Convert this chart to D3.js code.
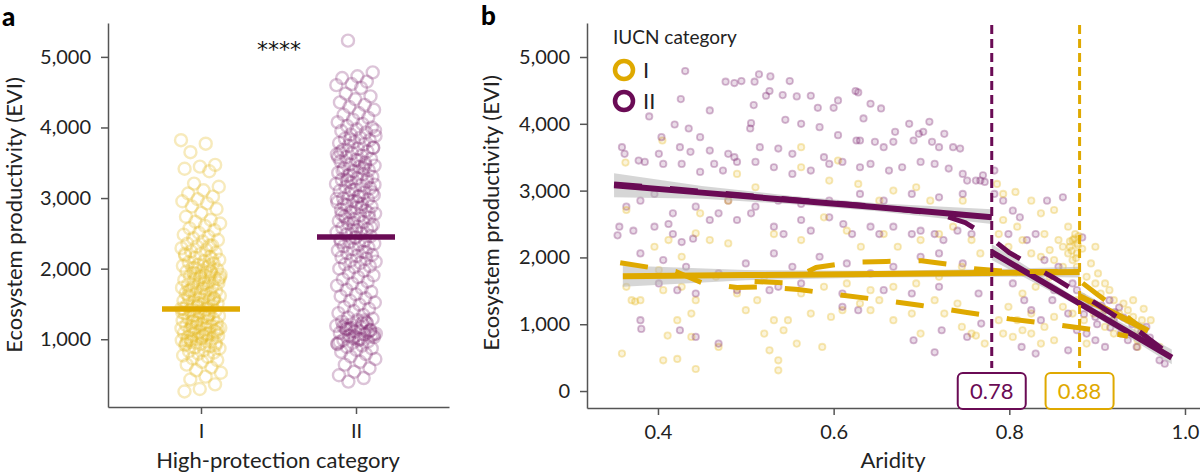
<!DOCTYPE html>
<html>
  <head>
    <script src="https://d3js.org/d3.v7.min.js"></script>
    <style>
      body { margin: 0; background: #fff; }
      svg { font-family: Lato, "Noto Sans", sans-serif; }
      .axis path, .axis line { fill: none; stroke: #555; stroke-width: 1.5; }
      .axis text { font-size: 20px; fill: #222; font-family: Lato, "Noto Sans", sans-serif; }
      .title { font-size: 22px; fill: #222; }
      .panel { font-size: 26px; font-weight: 900; fill: #000; }
    </style>
  </head>
  <body>
    <script>
      // ---- data ----
      var categories = ["I", "II"];
      var colors = { I: "#dfa900", II: "#6a0b55" };
      var ringColors = { I: "#e5b820", II: "#7d2570" };

      // panel a: EVI of each protected area
      var evi_I = [3820,3770,3650,3470,3445,3415,3380,3205,3160,3110,3065,3020,2985,2955,2925,2880,2845,2790,2735,2690,2665,2640,2605,2570,2545,2505,2480,2455,2430,2405,2385,2355,2330,2315,2290,2265,2245,2225,2205,2185,2165,2150,2125,2105,2090,2075,2055,2040,2025,2010,1990,1975,1960,1945,1930,1915,1905,1890,1870,1855,1840,1825,1815,1800,1785,1770,1755,1745,1730,1715,1700,1685,1670,1655,1645,1630,1615,1600,1585,1570,1560,1545,1530,1515,1505,1490,1475,1465,1450,1435,1425,1410,1400,1385,1370,1360,1345,1330,1320,1305,1290,1280,1265,1250,1240,1225,1210,1200,1185,1170,1160,1145,1130,1120,1105,1090,1080,1065,1050,1040,1025,1010,1000,985,970,960,945,930,915,900,885,870,850,830,810,795,770,750,730,705,680,640,600,560,525,470,430,360,295,260,
        2050,1940,1850,1720,1620,1550,1470,1380,1300,1180,1100,1020,940,1965,2015,1880,1790,1690,1580,1510,1430,1340,1260,1140,1060,980,2140,1235,1155,1075,995,915,1880,2210,2330];
      var evi_II = [5230,4780,4725,4700,4650,4615,4600,4560,4480,4440,4400,4355,4320,4290,4250,4205,4180,4140,4110,4075,4050,4020,4000,3975,3950,3930,3900,3880,3855,3840,3820,3795,3780,3760,3740,3715,3700,3680,3660,3635,3620,3600,3580,3555,3540,3520,3500,3475,3460,3440,3420,3395,3380,3360,3340,3315,3300,3280,3260,3235,3220,3200,3180,3155,3140,3120,3100,3075,3060,3040,3020,2995,2980,2960,2940,2915,2900,2880,2860,2835,2820,2800,2780,2755,2740,2720,2700,2675,2660,2640,2620,2595,2580,2560,2540,2515,2500,2480,2460,2435,2420,2400,2380,2355,2340,2320,2300,2275,2260,2240,2220,2195,2180,2160,2140,2115,2100,2080,2060,2035,2020,2000,1970,1940,1905,1880,1850,1815,1790,1760,1725,1700,1670,1635,1610,1580,1545,1520,1490,1455,1430,1400,1370,1345,1310,1290,1270,1250,1230,1210,1190,1170,1150,1130,1110,1090,1070,1050,1030,1010,990,970,950,930,910,890,870,850,820,790,755,720,680,640,590,540,490,450,400,
        3710,3530,3390,3270,3110,2990,2870,2710,2590,2450,3650,3470,3330,3190,3030,2910,2790,2650,3580,3420,3250,3080,2940,2770,1240,1160,1080,1000,1200,1120,1040,960,1265,1145,1065,985,1180,1100,1020,940,1225,1135,1055,2550,2380,2230,3830,3960];
      var medians = [1430, 2450];

      // panel b: aridity vs EVI
      var scatter_II = [[0.431,4790],[0.477,4630],[0.487,4610],[0.495,4640],[0.510,4630],[0.515,4740],[0.528,4710],[0.550,4640],[0.527,4490],[0.523,4420],[0.542,4430],[0.558,4410],[0.574,4420],[0.625,4490],[0.628,4470],[0.426,4370],[0.459,4200],[0.390,4110],[0.509,4280],[0.582,4240],[0.600,4240],[0.605,4350],[0.642,4300],[0.654,4230],[0.634,4080],[0.545,4060],[0.563,4000],[0.584,3950],[0.506,4010],[0.505,3930],[0.419,3990],[0.404,3800],[0.435,3930],[0.448,3800],[0.425,3650],[0.437,3580],[0.459,3600],[0.480,3550],[0.487,3500],[0.516,3650],[0.537,3630],[0.553,3550],[0.589,3500],[0.605,3830],[0.626,3750],[0.630,3750],[0.647,3730],[0.657,3650],[0.668,3730],[0.670,3880],[0.686,4000],[0.691,3750],[0.697,3850],[0.702,3880],[0.709,4030],[0.712,3730],[0.720,3650],[0.726,3850],[0.736,3650],[0.744,3630],[0.359,3650],[0.362,3550],[0.378,3450],[0.385,3430],[0.401,3550],[0.406,3400],[0.427,3400],[0.448,3280],[0.464,3400],[0.474,3300],[0.490,3430],[0.511,3430],[0.532,3350],[0.553,3250],[0.574,3300],[0.595,3400],[0.610,3430],[0.630,3350],[0.642,3400],[0.663,3300],[0.678,3350],[0.699,3430],[0.715,3400],[0.731,3330],[0.747,3250],[0.762,3150],[0.770,3230],[0.783,3300],[0.772,3130],
        [0.354,2330],[0.356,2460],[0.372,2400],[0.396,2460],[0.412,2500],[0.417,2350],[0.427,2230],[0.440,2280],[0.459,2560],[0.469,2660],[0.490,2560],[0.506,2660],[0.532,2460],[0.543,2350],[0.563,2560],[0.574,2400],[0.595,2600],[0.611,2500],[0.621,2350],[0.642,2460],[0.652,2350],[0.668,2460],[0.689,2350],[0.699,2400],[0.715,2350],[0.725,2260],[0.741,2400],[0.757,2350],[0.364,2760],[0.380,2850],[0.396,2950],[0.417,2660],[0.443,2760],[0.480,2850],[0.511,2760],[0.537,2850],[0.563,2800],[0.595,2850],[0.630,2950],[0.657,2850],[0.689,2950],[0.720,2900],[0.747,2950],[0.752,3150],[0.767,3150],
        [0.380,2060],[0.406,1960],[0.432,1860],[0.469,1760],[0.500,1910],[0.532,2060],[0.553,1860],[0.584,2010],[0.615,1910],[0.642,1760],[0.668,1860],[0.699,2010],[0.720,2060],[0.747,1910],[0.401,1610],[0.422,1510],[0.443,1460],[0.490,1510],[0.537,1560],[0.563,1610],[0.610,1460],[0.657,1510],[0.689,1460],[0.720,1560],[0.765,1460],
        [0.380,1060],[0.381,930],[0.425,910],[0.443,810],[0.469,710],[0.527,1510],[0.610,1260],[0.628,1210],[0.691,760],[0.715,580],[0.752,810],[0.768,1010],[0.723,910],
        [0.783,2950],[0.793,2850],[0.804,2700],[0.812,2600],[0.799,2350],[0.820,2260],[0.830,2350],[0.843,2850],[0.861,2900],[0.840,1960],[0.856,1860],[0.872,1610],[0.883,2300],[0.804,1610],[0.817,1360],[0.825,1210],[0.836,1060],[0.849,1360],[0.867,1160],[0.877,910],[0.888,860],[0.898,1110],[0.909,1210],[0.919,1060],[0.927,860],[0.935,760],[0.945,660],[0.956,960],[0.898,760],[0.909,660],[0.867,610],[0.814,660],[0.830,560],[0.977,410],[0.971,460],[0.914,1360],[0.893,1310],[0.877,1510],[0.851,1510],
        [0.905,1280],[0.920,1180],[0.930,1100],[0.940,1000],[0.915,950],[0.925,1250],[0.900,1000],[0.885,1150],[0.950,880],[0.960,800]];
      var scatter_I = [[0.363,3420],[0.405,3750],[0.359,560],[0.364,2710],[0.370,1360],[0.374,1340],[0.406,460],[0.422,480],[0.443,330],[0.438,1160],[0.422,1060],[0.411,830],[0.438,810],[0.469,660],[0.448,2660],[0.459,2260],[0.480,2210],[0.443,2360],[0.427,2010],[0.401,1810],[0.396,2160],[0.412,2260],[0.427,1560],[0.443,1360],[0.466,1710],[0.490,1460],[0.500,1210],[0.513,1360],[0.521,860],[0.527,610],[0.537,460],[0.537,310],[0.532,1060],[0.543,910],[0.548,1060],[0.558,710],[0.574,1160],[0.587,660],[0.597,1110],[0.610,1210],[0.630,1310],[0.642,1210],[0.652,1360],[0.668,1060],[0.689,1160],[0.699,860],[0.715,1360],[0.726,1160],[0.741,1310],[0.746,960],[0.757,860],[0.762,830],[0.772,710],[0.563,3650],[0.563,3350],[0.605,3450],[0.595,3150],[0.628,3100],[0.652,2850],[0.668,3000],[0.694,3050],[0.710,2850],[0.747,2850],[0.490,3250],[0.511,3050],[0.480,2850],[0.532,2350],[0.563,2260],[0.589,2600],[0.615,2400],[0.631,2160],[0.657,2350],[0.673,2160],[0.699,2260],[0.720,2350],[0.736,2460],[0.757,2260],[0.767,2060],[0.746,1860],[0.720,1710],[0.694,1610],[0.668,1560],[0.642,1510],[0.615,1610],[0.589,1560],[0.563,1460],[0.521,1710],[0.406,1510],[0.380,1360],[0.364,1560],
        [0.786,3100],[0.793,2950],[0.807,2980],[0.825,2850],[0.836,2660],[0.851,2710],[0.867,2460],[0.872,2260],[0.869,2160],[0.875,2350],[0.877,2210],[0.867,2060],[0.861,2160],[0.856,2260],[0.846,2110],[0.836,2010],[0.825,2060],[0.815,2260],[0.799,2160],[0.788,2350],[0.793,2560],[0.809,2460],[0.840,2350],[0.851,1960],[0.877,1860],[0.888,1710],[0.898,1610],[0.904,1460],[0.914,1510],[0.919,1360],[0.930,1310],[0.935,1210],[0.941,1110],[0.951,1060],[0.946,910],[0.930,910],[0.919,860],[0.909,960],[0.896,1160],[0.885,1060],[0.872,1160],[0.861,1260],[0.851,1110],[0.840,960],[0.825,860],[0.815,910],[0.804,810],[0.793,860],[0.788,1060],[0.799,1260],[0.815,1460],[0.830,1560],[0.846,1710],[0.861,1860],[0.872,1960],[0.877,2060],[0.883,2130],[0.888,710],[0.851,760],[0.836,710],[0.946,660],[0.961,1060],[0.953,1230],[0.941,1360],[0.909,1610],[0.901,1760],[0.893,1910],[0.883,1410],[0.925,1160],[0.935,1060],[0.917,1060],[0.906,1160],[0.891,1310],[0.877,1360],[0.825,1160],[0.809,1060],[0.946,760],[0.971,660],[0.898,2160],
        [0.874,2280],[0.878,2180],[0.871,2100],[0.876,1990],[0.879,2320],[0.869,2240]];

      // piecewise fits (solid) with confidence bands [aridity, fit, lo, hi]
      var fit_II_a = [[0.350,3080,2900,3260],[0.450,2970,2880,3070],[0.550,2860,2800,2925],[0.650,2750,2690,2810],[0.780,2600,2500,2720]];
      var fit_II_b = [[0.780,2080,1960,2200],[0.880,1310,1260,1360],[0.985,500,400,620]];
      var fit_I_a = [[0.360,1720,1560,1880],[0.500,1735,1660,1810],[0.650,1750,1700,1800],[0.800,1770,1710,1830],[0.880,1780,1700,1860]];
      var fit_I_b = [[0.880,1420,1340,1500],[0.920,1160,1110,1210],[0.958,900,830,970]];
      // smoothed trends (dashed)
      var smooth_II = [[0.350,3100],[0.450,2990],[0.550,2870],[0.650,2760],[0.720,2650],[0.750,2520],[0.780,2280],[0.800,2070],[0.850,1700],[0.900,1300],[0.950,870],[0.985,520]];
      var smooth_I_low = [[0.357,1920],[0.420,1790],[0.450,1620],[0.490,1550],[0.520,1560],[0.560,1520],[0.600,1450],[0.650,1370],[0.700,1280],[0.750,1180],[0.800,1080],[0.850,1000],[0.900,910],[0.935,820]];
      var smooth_I_up = [[0.510,1640],[0.545,1620],[0.580,1850],[0.620,1925],[0.660,1940],[0.700,1950],[0.730,1900],[0.760,1830],[0.800,1790],[0.860,1790],[0.875,1700],[0.900,1450],[0.930,1150],[0.955,900]];
      var thresholds = [0.78, 0.88];

      var svg = d3.select("body").append("svg")
        .attr("width", 1200)
        .attr("height", 476);

      // ================= panel a =================
      var xa = d3.scalePoint().domain(categories).range([108, 449]).padding(0.6);
      var ya = d3.scaleLinear().domain([40, 5480]).range([407, 23]);

      svg.append("g")
        .attr("class", "axis")
        .attr("transform", "translate(0,407)")
        .call(d3.axisBottom(xa).tickSize(7).tickSizeOuter(0).tickPadding(10));
      svg.append("g")
        .attr("class", "axis")
        .attr("transform", "translate(108,0)")
        .call(d3.axisLeft(ya).tickValues([1000, 2000, 3000, 4000, 5000]).tickFormat(d3.format(",")).tickSize(7).tickSizeOuter(0).tickPadding(10));

      var stripData = [];
      [evi_I, evi_II].forEach(function(vals, k) {
        vals.forEach(function(v, i) {
          // deterministic jitter offset (golden-ratio sequence)
          var j = ((i * 0.6180339 + k * 0.3) % 1) * 2 - 1;
          stripData.push({ cat: categories[k], v: v, j: j });
        });
      });

      svg.append("g").selectAll("circle")
        .data(stripData)
        .enter().append("circle")
        .attr("cx", function(d) { return xa(d.cat) + d.j * 20; })
        .attr("cy", function(d) { return ya(d.v); })
        .attr("r", 6)
        .attr("fill", "none")
        .attr("stroke", function(d) { return ringColors[d.cat]; })
        .attr("stroke-width", 2.4)
        .attr("stroke-opacity", function(d) { return d.cat === "I" ? 0.3 : 0.27; });

      svg.append("g").selectAll("line")
        .data(categories)
        .enter().append("line")
        .attr("x1", function(d) { return xa(d) - 39; })
        .attr("x2", function(d) { return xa(d) + 39; })
        .attr("y1", function(d, i) { return ya(medians[i]); })
        .attr("y2", function(d, i) { return ya(medians[i]); })
        .attr("stroke", function(d) { return colors[d]; })
        .attr("stroke-width", 5.5);

      svg.append("text")
        .attr("x", 279).attr("y", 57)
        .attr("text-anchor", "middle")
        .style("font-family", "'DejaVu Sans', sans-serif")
        .style("font-size", "22px")
        .attr("fill", "#111")
        .text("****");

      svg.append("text").attr("class", "title")
        .attr("transform", "translate(22,215) rotate(-90)")
        .attr("text-anchor", "middle")
        .text("Ecosystem productivity (EVI)");
      svg.append("text").attr("class", "title")
        .attr("x", 278).attr("y", 468)
        .attr("text-anchor", "middle")
        .text("High-protection category");
      svg.append("text").attr("class", "panel").attr("x", 2).attr("y", 26).text("a");

      // ================= panel b =================
      var xb = d3.scaleLinear().domain([0.3192, 1.0171]).range([587, 1200]);
      var yb = d3.scaleLinear().domain([-254, 5509]).range([408, 23]);

      var pts = scatter_II.map(function(d) { return { cat: "II", a: d[0], v: d[1] }; })
        .concat(scatter_I.map(function(d) { return { cat: "I", a: d[0], v: d[1] }; }));
      // interleave so neither group sits fully on top
      pts.sort(function(p, q) { return (p.a * 997 + p.v) % 7 - (q.a * 997 + q.v) % 7; });

      svg.append("g").selectAll("circle")
        .data(pts)
        .enter().append("circle")
        .attr("cx", function(d) { return xb(d.a); })
        .attr("cy", function(d) { return yb(d.v); })
        .attr("r", 3.2)
        .attr("fill", function(d) { return ringColors[d.cat]; })
        .attr("fill-opacity", 0.16)
        .attr("stroke", function(d) { return ringColors[d.cat]; })
        .attr("stroke-opacity", 0.32)
        .attr("stroke-width", 1.8);

      var band = d3.area()
        .x(function(d) { return xb(d[0]); })
        .y0(function(d) { return yb(d[2]); })
        .y1(function(d) { return yb(d[3]); });
      var fitLine = d3.line()
        .x(function(d) { return xb(d[0]); })
        .y(function(d) { return yb(d[1]); });

      var fits = [
        { cat: "I", d: fit_I_a }, { cat: "I", d: fit_I_b },
        { cat: "II", d: fit_II_a }, { cat: "II", d: fit_II_b }
      ];
      svg.append("g").selectAll("path")
        .data(fits)
        .enter().append("path")
        .attr("d", function(f) { return band(f.d); })
        .attr("fill", "#b5b5b5")
        .attr("fill-opacity", 0.55);
      svg.append("g").selectAll("path")
        .data(fits)
        .enter().append("path")
        .attr("d", function(f) { return fitLine(f.d); })
        .attr("fill", "none")
        .attr("stroke", function(f) { return colors[f.cat]; })
        .attr("stroke-width", 6);

      var smooths = [
        { cat: "I", d: smooth_I_low }, { cat: "I", d: smooth_I_up }, { cat: "II", d: smooth_II }
      ];
      svg.append("g").selectAll("path")
        .data(smooths)
        .enter().append("path")
        .attr("d", function(f) { return fitLine(f.d); })
        .attr("fill", "none")
        .attr("stroke", function(f) { return colors[f.cat]; })
        .attr("stroke-width", 5)
        .attr("stroke-dasharray", "28,28");

      svg.append("g")
        .attr("class", "axis")
        .attr("transform", "translate(0,408)")
        .call(d3.axisBottom(xb).tickValues([0.4, 0.6, 0.8, 1.0]).tickFormat(d3.format(".1f")).tickSize(7).tickSizeOuter(0).tickPadding(10));
      svg.append("g")
        .attr("class", "axis")
        .attr("transform", "translate(587,0)")
        .call(d3.axisLeft(yb).tickValues([0, 1000, 2000, 3000, 4000, 5000]).tickFormat(d3.format(",")).tickSize(7).tickSizeOuter(0).tickPadding(10));

      // thresholds
      var thr = svg.append("g").selectAll("g")
        .data(thresholds)
        .enter().append("g");
      thr.append("line")
        .attr("x1", function(d) { return xb(d); })
        .attr("x2", function(d) { return xb(d); })
        .attr("y1", 25).attr("y2", 368)
        .attr("stroke", function(d, i) { return colors[categories[1 - i]]; })
        .attr("stroke-width", 3)
        .attr("stroke-dasharray", "9,5");
      thr.append("rect")
        .attr("x", function(d) { return xb(d) - 34; })
        .attr("y", 373)
        .attr("width", 68).attr("height", 36)
        .attr("rx", 5)
        .attr("fill", "#fff")
        .attr("stroke", function(d, i) { return colors[categories[1 - i]]; })
        .attr("stroke-width", 2);
      thr.append("text")
        .attr("x", function(d) { return xb(d); })
        .attr("y", 399)
        .attr("text-anchor", "middle")
        .style("font-size", "22px")
        .attr("fill", function(d, i) { return colors[categories[1 - i]]; })
        .text(function(d) { return d.toFixed(2); });

      // legend
      svg.append("text")
        .attr("x", 613).attr("y", 44)
        .style("font-size", "19px").attr("fill", "#222")
        .text("IUCN category");
      var leg = svg.append("g").selectAll("g")
        .data(categories)
        .enter().append("g")
        .attr("transform", function(d, i) { return "translate(624," + (70 + i * 31) + ")"; });
      leg.append("circle")
        .attr("r", 9)
        .attr("fill", "none")
        .attr("stroke", function(d) { return colors[d]; })
        .attr("stroke-width", 4.5);
      leg.append("text")
        .attr("x", 19).attr("y", 8)
        .style("font-size", "22px").attr("fill", "#222")
        .text(function(d) { return d; });

      svg.append("text").attr("class", "title")
        .attr("transform", "translate(499,213) rotate(-90)")
        .attr("text-anchor", "middle")
        .text("Ecosystem productivity (EVI)");
      svg.append("text").attr("class", "title")
        .attr("x", 893).attr("y", 468)
        .attr("text-anchor", "middle")
        .text("Aridity");
      svg.append("text").attr("class", "panel").attr("x", 481).attr("y", 25).text("b");
    </script>
  </body>
</html>
